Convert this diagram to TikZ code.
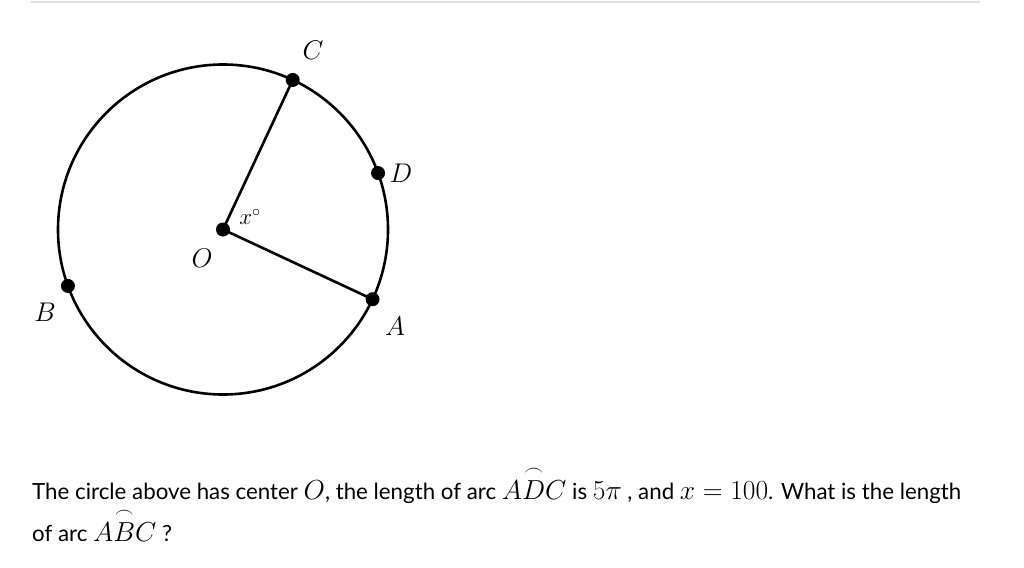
\documentclass[tikz,border=0pt]{standalone}
\usepackage{fix-cm}
\usepackage{amsmath}
\usepackage{fontspec}
\setmainfont{Lato}
\usetikzlibrary{calc}
\tikzset{
  dot/.style={circle,fill=black,inner sep=0pt,minimum size=14pt},
  lbl/.style={font=\fontsize{27}{27}\selectfont},
  txt/.style={anchor=base west,inner sep=0pt,font=\fontsize{22.3}{22.3}\selectfont},
  seg/.style={line width=2.6pt}
}
\newcommand{\mth}[1]{{\fontsize{27.5}{27.5}\selectfont$#1$}}
\begin{document}
\begin{tikzpicture}[x=1pt,y=-1pt]
\useasboundingbox (0,0) rectangle (1024,567);
\draw[line width=2pt,gray!25] (31,2) -- (980,2);
\coordinate (Oc) at (223,229.5);
\draw[seg] (Oc) circle[radius=165];
\node[dot] (O) at (Oc) {};
\node[dot] (C) at ($(Oc)+(65:165 and -165)$) {};
\node[dot] (A) at ($(Oc)+(-25:165 and -165)$) {};
\node[dot] (D) at ($(Oc)+(20:165 and -165)$) {};
\node[dot] (B) at ($(Oc)+(200:165 and -165)$) {};
\draw[seg] (O.center) -- (C.center);
\draw[seg] (O.center) -- (A.center);
\node[lbl] (lC) at (313,50) {$C$};
\node[lbl] (lD) at (401,173) {$D$};
\node[lbl] (lO) at (202,258) {$O$};
\node[lbl] (lB) at (45,312) {$B$};
\node[lbl] (lA) at (395,326) {$A$};
\node[font=\fontsize{23}{23}\selectfont] (lx) at (250,217) {$x^\circ$};
\node[txt] (t1) at (32,499) {The circle above has center \mth{O}, the length of arc \mth{A\overset{\frown}{D}C} is \mth{5\pi} , and \mth{x=100}. What is the length};
\node[txt] (t2) at (32,541) {of arc \mth{A\overset{\frown}{B}C} ?};
\end{tikzpicture}
\end{document}
